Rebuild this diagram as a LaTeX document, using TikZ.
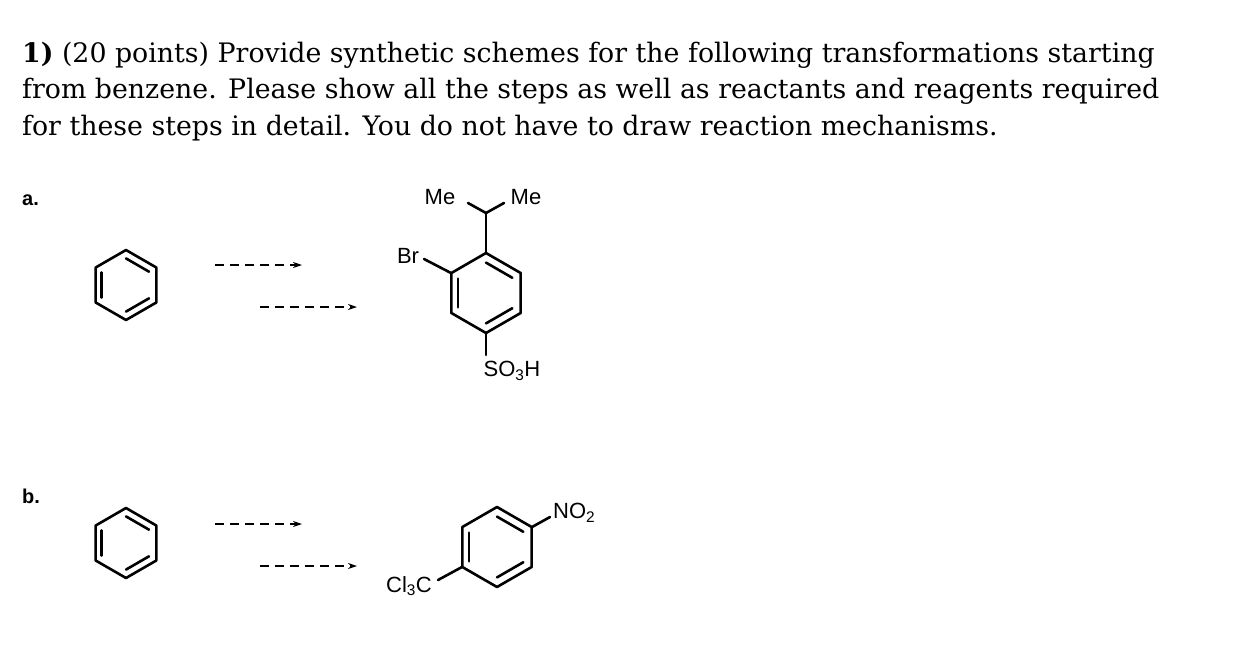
\documentclass[tikz,border=0pt]{standalone}
\usepackage{fontspec}
\usetikzlibrary{calc,arrows.meta}
\setmainfont{DejaVu Serif}
\newfontfamily\chem{Liberation Sans}
\begin{document}
\begin{tikzpicture}[x=1pt,y=-1pt,
  bond/.style={line width=2.6pt,line cap=round,line join=round},
  arr/.style={line width=1.4pt,dash pattern=on 9pt off 6pt,-{Stealth[length=9pt,width=6pt]}},
  hdr/.style={anchor=base west,inner sep=0,font=\fontsize{26.8}{30}\selectfont},
  lab/.style={inner sep=0,font=\chem\fontsize{22}{24}\selectfont},
  tag/.style={anchor=base west,inner sep=0,font=\chem\bfseries\fontsize{20}{24}\selectfont}]
\useasboundingbox (0,0) rectangle (1236,670);
\node[hdr] (h1) at (22,62) {\textbf{1)} (20 points) Provide synthetic schemes for the following transformations starting};
\node[hdr] (h2) at (22,98) {from benzene. Please show all the steps as well as reactants and reagents required};
\node[hdr] (h3) at (22,135) {for these steps in detail. You do not have to draw reaction mechanisms.};
\node[tag] (ta) at (22,205) {a.};
\node[tag] (tb) at (22,503) {b.};
\foreach \cx/\cy/\r in {126/285/35, 126/543/35, 486/293/40, 497/547/40}{
  \draw[bond] (\cx,\cy-\r) -- ++(30:\r) -- ++(90:\r) -- ++(150:\r) -- ++(210:\r) -- ++(270:\r) -- cycle;
  \draw[bond] (\cx-0.866*\r+0.17*\r,\cy-0.36*\r) -- (\cx-0.866*\r+0.17*\r,\cy+0.36*\r);
  \draw[bond] ($(\cx,\cy)!0.76!(\cx,\cy-\r)$) -- ($(\cx,\cy)!0.76!(\cx+0.866*\r,\cy-0.5*\r)$);
  \draw[bond] ($(\cx,\cy)!0.76!(\cx,\cy+\r)$) -- ($(\cx,\cy)!0.76!(\cx+0.866*\r,\cy+0.5*\r)$);
}
\coordinate (a1s) at (215,265); \coordinate (a1e) at (302,265);
\coordinate (a2s) at (260,307); \coordinate (a2e) at (357,307);
\coordinate (b1s) at (215,524); \coordinate (b1e) at (302,524);
\coordinate (b2s) at (260,566); \coordinate (b2e) at (357,566);
\draw[arr] (a1s) -- (a1e); \draw[arr] (a2s) -- (a2e);
\draw[arr] (b1s) -- (b1e); \draw[arr] (b2s) -- (b2e);
\coordinate (ct) at (486,253); \coordinate (ch) at (486,213);
\coordinate (cbr) at (451,273); \coordinate (cb) at (486,333);
\node[lab] (me1) at (440,197) {Me};
\node[lab] (me2) at (526,197) {Me};
\node[lab] (br) at (408,256) {Br};
\node[lab] (so) at (512,371) {SO\textsubscript{3}H};
\draw[bond] (ct) -- (ch); \draw[bond] (ch) -- (468,203); \draw[bond] (ch) -- (504,203);
\draw[bond] (cbr) -- (424,259);
\draw[bond] (cb) -- (486,355);
\coordinate (cn) at (532,527); \coordinate (cc) at (462,567);
\node[lab,anchor=west] (no) at (553,513) {NO\textsubscript{2}};
\node[lab] (ccl) at (409,586) {Cl\textsubscript{3}C};
\draw[bond] (cn) -- (550,517);
\draw[bond] (cc) -- (438,580);
\end{tikzpicture}
\end{document}
